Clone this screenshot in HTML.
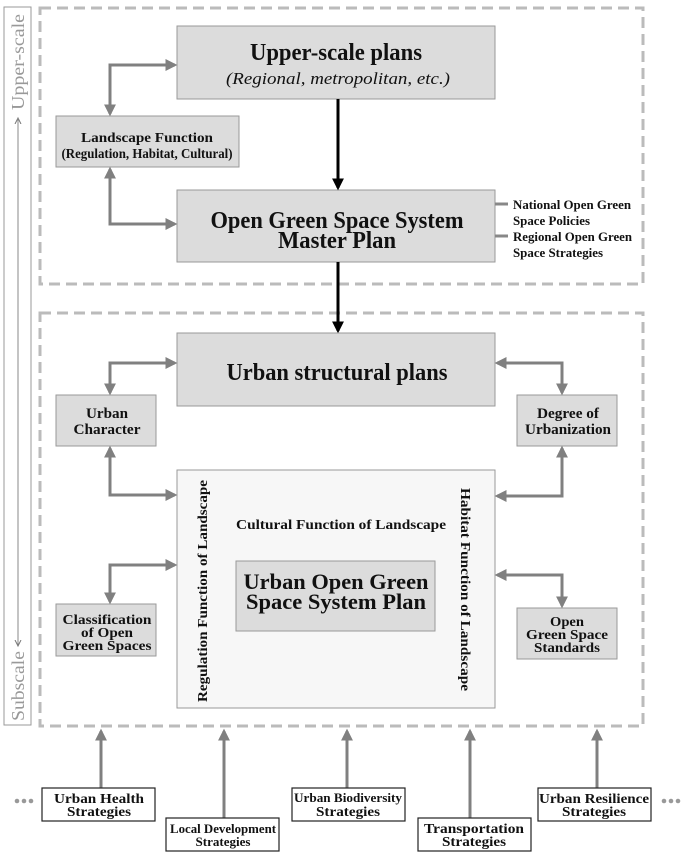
<!DOCTYPE html>
<html><head><meta charset="utf-8"><style>
html,body{margin:0;padding:0;background:#fff;}
svg{display:block;}
text{font-family:"Liberation Serif",serif;font-weight:bold;fill:#111;}
</style></head><body>
<svg width="685" height="856" viewBox="0 0 685 856" xmlns="http://www.w3.org/2000/svg">
<defs>
<marker id="ga" markerWidth="4" markerHeight="4" refX="3.2" refY="2" orient="auto" markerUnits="strokeWidth"><path d="M0,0 L4,2 L0,4 z" fill="#808080"/></marker>
<marker id="ba" markerWidth="4" markerHeight="4" refX="3.2" refY="2" orient="auto" markerUnits="strokeWidth"><path d="M0,0 L4,2 L0,4 z" fill="#000"/></marker>
<marker id="sa" markerWidth="8" markerHeight="8" refX="6" refY="4" orient="auto" markerUnits="userSpaceOnUse"><path d="M0,1 L6,4 L0,7" fill="none" stroke="#777" stroke-width="1"/></marker>
</defs>

<rect x="4" y="7" width="27" height="718" fill="#fff" stroke="#999" stroke-width="1"/>
<line x1="18" y1="646" x2="18" y2="118" stroke="#888" stroke-width="1" marker-end="url(#sa)"/>
<line x1="18" y1="118" x2="18" y2="646" stroke="#888" stroke-width="1" marker-end="url(#sa)"/>
<text transform="translate(24,110) rotate(-90)" style="font-weight:normal;fill:#999;font-size:18px" textLength="96" lengthAdjust="spacingAndGlyphs">Upper-scale</text>
<text transform="translate(24,721) rotate(-90)" style="font-weight:normal;fill:#999;font-size:18px" textLength="70" lengthAdjust="spacingAndGlyphs">Subscale</text>

<rect x="40" y="8" width="603" height="276" fill="none" stroke="#bbb" stroke-width="3" stroke-dasharray="11,6"/>
<rect x="40" y="313" width="603" height="413" fill="none" stroke="#bbb" stroke-width="3" stroke-dasharray="11,6"/>

<rect x="177" y="26" width="318" height="73" fill="#dcdcdc" stroke="#999"/>
<text x="336" y="60" text-anchor="middle" font-size="24" textLength="172" lengthAdjust="spacingAndGlyphs">Upper-scale plans</text>
<text x="338" y="84" text-anchor="middle" font-size="17" font-style="italic" style="font-weight:normal" textLength="224" lengthAdjust="spacingAndGlyphs">(Regional, metropolitan, etc.)</text>

<rect x="56" y="116" width="183" height="51" fill="#dcdcdc" stroke="#999"/>
<text x="147" y="142" text-anchor="middle" font-size="14" textLength="132" lengthAdjust="spacingAndGlyphs">Landscape Function</text>
<text x="147" y="158" text-anchor="middle" font-size="14" textLength="171" lengthAdjust="spacingAndGlyphs">(Regulation, Habitat, Cultural)</text>

<rect x="177" y="190" width="318" height="72" fill="#dcdcdc" stroke="#999"/>
<text x="337" y="228" text-anchor="middle" font-size="24" textLength="253" lengthAdjust="spacingAndGlyphs">Open Green Space System</text>
<text x="337" y="248" text-anchor="middle" font-size="24" textLength="118" lengthAdjust="spacingAndGlyphs">Master Plan</text>

<line x1="495" y1="204" x2="508" y2="204" stroke="#888" stroke-width="3"/>
<line x1="495" y1="236" x2="508" y2="236" stroke="#888" stroke-width="3"/>
<text x="513" y="209" font-size="13" textLength="118" lengthAdjust="spacingAndGlyphs">National Open Green</text>
<text x="513" y="225" font-size="13" textLength="77" lengthAdjust="spacingAndGlyphs">Space Policies</text>
<text x="513" y="241" font-size="13" textLength="119" lengthAdjust="spacingAndGlyphs">Regional Open Green</text>
<text x="513" y="257" font-size="13" textLength="90" lengthAdjust="spacingAndGlyphs">Space Strategies</text>

<line x1="338" y1="99" x2="338" y2="188" stroke="#000" stroke-width="3" marker-end="url(#ba)"/>
<line x1="338" y1="262" x2="338" y2="331" stroke="#000" stroke-width="3" marker-end="url(#ba)"/>

<path d="M110,114 L110,65 L175,65" fill="none" stroke="#808080" stroke-width="3" marker-end="url(#ga)"/>
<path d="M110,80 L110,114" fill="none" stroke="#808080" stroke-width="3" marker-end="url(#ga)"/>
<path d="M110,169 L110,224 L175,224" fill="none" stroke="#808080" stroke-width="3" marker-end="url(#ga)"/>
<path d="M110,200 L110,169" fill="none" stroke="#808080" stroke-width="3" marker-end="url(#ga)"/>

<rect x="177" y="333" width="318" height="73" fill="#dcdcdc" stroke="#999"/>
<text x="337" y="380" text-anchor="middle" font-size="24" textLength="221" lengthAdjust="spacingAndGlyphs">Urban structural plans</text>

<rect x="56" y="395" width="100" height="51" fill="#dcdcdc" stroke="#999"/>
<text x="107" y="418" text-anchor="middle" font-size="15" textLength="42" lengthAdjust="spacingAndGlyphs">Urban</text>
<text x="107" y="434" text-anchor="middle" font-size="15" textLength="67" lengthAdjust="spacingAndGlyphs">Character</text>

<rect x="517" y="395" width="100" height="51" fill="#dcdcdc" stroke="#999"/>
<text x="568" y="418" text-anchor="middle" font-size="15" textLength="62" lengthAdjust="spacingAndGlyphs">Degree of</text>
<text x="568" y="434" text-anchor="middle" font-size="15" textLength="86" lengthAdjust="spacingAndGlyphs">Urbanization</text>

<rect x="177" y="470" width="318" height="238" fill="#f7f7f7" stroke="#999"/>
<text x="341" y="529" text-anchor="middle" font-size="14" textLength="210" lengthAdjust="spacingAndGlyphs">Cultural Function of Landscape</text>
<text transform="translate(207,702) rotate(-90)" font-size="13.5" textLength="222" lengthAdjust="spacingAndGlyphs">Regulation Function of Landscape</text>
<text transform="translate(461,488) rotate(90)" font-size="13.5" textLength="203" lengthAdjust="spacingAndGlyphs">Habitat Function of Landscape</text>
<rect x="236" y="561" width="199" height="70" fill="#dcdcdc" stroke="#999"/>
<text x="336" y="589" text-anchor="middle" font-size="22" textLength="185" lengthAdjust="spacingAndGlyphs">Urban Open Green</text>
<text x="336" y="609" text-anchor="middle" font-size="22" textLength="180" lengthAdjust="spacingAndGlyphs">Space System Plan</text>

<rect x="56" y="604" width="100" height="52" fill="#dcdcdc" stroke="#999"/>
<text x="107" y="624" text-anchor="middle" font-size="14" textLength="89" lengthAdjust="spacingAndGlyphs">Classification</text>
<text x="107" y="637" text-anchor="middle" font-size="14" textLength="52" lengthAdjust="spacingAndGlyphs">of Open</text>
<text x="107" y="650" text-anchor="middle" font-size="14" textLength="89" lengthAdjust="spacingAndGlyphs">Green Spaces</text>

<rect x="517" y="608" width="100" height="51" fill="#dcdcdc" stroke="#999"/>
<text x="567" y="626" text-anchor="middle" font-size="14" textLength="34" lengthAdjust="spacingAndGlyphs">Open</text>
<text x="567" y="639" text-anchor="middle" font-size="14" textLength="82" lengthAdjust="spacingAndGlyphs">Green Space</text>
<text x="567" y="652" text-anchor="middle" font-size="14" textLength="66" lengthAdjust="spacingAndGlyphs">Standards</text>

<g fill="none" stroke="#808080" stroke-width="3">
<path d="M110,392 L110,363 L175,363" marker-end="url(#ga)"/>
<path d="M110,375 L110,393" marker-end="url(#ga)"/>
<path d="M110,448 L110,495 L175,495" marker-end="url(#ga)"/>
<path d="M110,470 L110,448" marker-end="url(#ga)"/>
<path d="M110,602 L110,565 L175,565" marker-end="url(#ga)"/>
<path d="M110,580 L110,602" marker-end="url(#ga)"/>
<path d="M562,393 L562,363 L497,363" marker-end="url(#ga)"/>
<path d="M562,375 L562,393" marker-end="url(#ga)"/>
<path d="M562,448 L562,496 L497,496" marker-end="url(#ga)"/>
<path d="M562,470 L562,448" marker-end="url(#ga)"/>
<path d="M562,606 L562,575 L497,575" marker-end="url(#ga)"/>
<path d="M562,590 L562,606" marker-end="url(#ga)"/>
</g>

<g fill="none" stroke="#808080" stroke-width="3">
<line x1="101" y1="788" x2="101" y2="731" marker-end="url(#ga)"/>
<line x1="224" y1="818" x2="224" y2="731" marker-end="url(#ga)"/>
<line x1="347" y1="788" x2="347" y2="731" marker-end="url(#ga)"/>
<line x1="470" y1="818" x2="470" y2="731" marker-end="url(#ga)"/>
<line x1="597" y1="788" x2="597" y2="731" marker-end="url(#ga)"/>
</g>
<g fill="#fff" stroke="#222" stroke-width="1.2">
<rect x="42" y="788" width="113" height="33"/>
<rect x="166" y="818" width="113" height="33"/>
<rect x="292" y="788" width="113" height="33"/>
<rect x="418" y="818" width="113" height="33"/>
<rect x="538" y="788" width="113" height="33"/>
</g>
<text x="99" y="803" text-anchor="middle" font-size="14" textLength="90" lengthAdjust="spacingAndGlyphs">Urban Health</text>
<text x="99" y="816" text-anchor="middle" font-size="14" textLength="64" lengthAdjust="spacingAndGlyphs">Strategies</text>
<text x="223" y="833" text-anchor="middle" font-size="13" textLength="106" lengthAdjust="spacingAndGlyphs">Local Development</text>
<text x="223" y="846" text-anchor="middle" font-size="13" textLength="55" lengthAdjust="spacingAndGlyphs">Strategies</text>
<text x="348" y="802" text-anchor="middle" font-size="13" textLength="108" lengthAdjust="spacingAndGlyphs">Urban Biodiversity</text>
<text x="348" y="816" text-anchor="middle" font-size="14" textLength="64" lengthAdjust="spacingAndGlyphs">Strategies</text>
<text x="474" y="833" text-anchor="middle" font-size="14" textLength="100" lengthAdjust="spacingAndGlyphs">Transportation</text>
<text x="474" y="846" text-anchor="middle" font-size="14" textLength="64" lengthAdjust="spacingAndGlyphs">Strategies</text>
<text x="594" y="803" text-anchor="middle" font-size="14" textLength="110" lengthAdjust="spacingAndGlyphs">Urban Resilience</text>
<text x="594" y="816" text-anchor="middle" font-size="14" textLength="64" lengthAdjust="spacingAndGlyphs">Strategies</text>
<g fill="#999">
<circle cx="17" cy="801" r="2.3"/><circle cx="24" cy="801" r="2.3"/><circle cx="31" cy="801" r="2.3"/>
<circle cx="664" cy="801" r="2.3"/><circle cx="671" cy="801" r="2.3"/><circle cx="678" cy="801" r="2.3"/>
</g>
</svg>
</body></html>
